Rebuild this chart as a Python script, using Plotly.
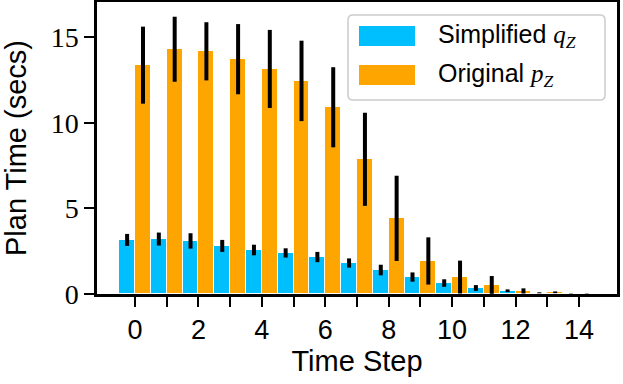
import plotly.graph_objects as go

steps = list(range(15))
simplified_mean = [3.16, 3.21, 3.10, 2.81, 2.57, 2.40, 2.16, 1.81, 1.40, 0.99, 0.64, 0.35, 0.19, 0.07, 0.02]
simplified_std = [0.35, 0.38, 0.45, 0.35, 0.31, 0.27, 0.30, 0.27, 0.31, 0.27, 0.22, 0.17, 0.08, 0.03, 0.01]
original_mean = [13.37, 14.30, 14.18, 13.72, 13.15, 12.45, 10.91, 7.87, 4.42, 1.93, 0.99, 0.53, 0.18, 0.10, 0.02]
original_std = [2.25, 1.90, 1.70, 2.05, 2.28, 2.35, 2.34, 2.72, 2.49, 1.38, 0.96, 0.52, 0.15, 0.05, 0.01]
x_major_ticks = [0, 2, 4, 6, 8, 10, 12, 14]
x_minor_ticks = [1, 3, 5, 7, 9, 11, 13]
y_tickvals = [0, 5, 10, 15]
series_names = ["Simplified", "Original"]
series_math = ["<i>q</i><sub><i>Z</i></sub>", "<i>p</i><sub><i>Z</i></sub>"]

BLUE = "#00BFFF"
ORANGE = "#FFA500"
W, H = 623, 384
ML, MR, MT, MB = 97, 6, 2, 90
PW, PH = W - ML - MR, H - MT - MB

fig = go.Figure()
fig.add_trace(go.Bar(
    x=steps, y=simplified_mean, name="Simplified q_Z",
    marker=dict(color=BLUE, line=dict(color="white", width=1)),
    error_y=dict(type="data", array=simplified_std, color="black", thickness=4, width=0),
    showlegend=False,
))
fig.add_trace(go.Bar(
    x=steps, y=original_mean, name="Original p_Z",
    marker=dict(color=ORANGE, line=dict(color="white", width=1)),
    error_y=dict(type="data", array=original_std, color="black", thickness=4, width=0),
    showlegend=False,
))

def px2x(px):
    return (px - ML) / PW

def px2y(py):
    return (H - MB - py) / PH

# custom legend (matplotlib style)
x0, x1, y0, y1 = px2x(348), px2x(605), px2y(100), px2y(15)
rx, ry = 5 / PW, 5 / PH
path = (f"M{x0+rx},{y0} L{x1-rx},{y0} Q{x1},{y0} {x1},{y0+ry} L{x1},{y1-ry} "
        f"Q{x1},{y1} {x1-rx},{y1} L{x0+rx},{y1} Q{x0},{y1} {x0},{y1-ry} "
        f"L{x0},{y0+ry} Q{x0},{y0} {x0+rx},{y0} Z")
shapes = [dict(type="path", xref="paper", yref="paper", path=path,
               fillcolor="rgba(255,255,255,0.8)", line=dict(color="#cccccc", width=1.5))]
annotations = []
for i, (nm, mth, col) in enumerate(zip(series_names, series_math, [BLUE, ORANGE])):
    top = 26 + i * 39
    shapes.append(dict(type="rect", xref="paper", yref="paper",
                       x0=px2x(359), x1=px2x(415), y0=px2y(top + 20), y1=px2y(top),
                       fillcolor=col, line=dict(width=0)))
    annotations.append(dict(
        xref="paper", yref="paper", x=px2x(436), y=px2y(top + 10),
        xanchor="left", yanchor="middle", showarrow=False,
        text=f"{nm} <span style='font-family:Liberation Serif'>{mth}</span>",
        font=dict(family="Liberation Sans", size=25, color="black"),
    ))

fig.update_layout(
    width=W, height=H,
    margin=dict(l=ML, r=MR, t=MT, b=MB),
    paper_bgcolor="white", plot_bgcolor="white",
    barmode="group", bargap=0, bargroupgap=0,
    shapes=shapes, annotations=annotations,
    showlegend=False,
)
fig.update_xaxes(
    range=[-1.2, 15.2], tickvals=x_major_ticks,
    ticks="outside", ticklen=10, tickwidth=2, tickcolor="black",
    minor=dict(tickvals=x_minor_ticks, ticks="outside", ticklen=10, tickwidth=2,
               tickcolor="black", showgrid=False),
    showline=True, linecolor="black", linewidth=2.5, mirror=True,
    showgrid=False, zeroline=False,
    tickfont=dict(family="Liberation Sans", size=27, color="black"),
    title=dict(text="Time Step", font=dict(family="Liberation Sans", size=29, color="black"), standoff=6),
    automargin=False,
)
fig.update_yaxes(
    range=[0, 17.06], tickvals=y_tickvals,
    ticks="outside", ticklen=10, tickwidth=2, tickcolor="black",
    showline=True, linecolor="black", linewidth=2.5, mirror=True,
    showgrid=False, zeroline=False,
    tickfont=dict(family="Liberation Serif", size=28, color="black"),
    title=dict(text="Plan Time (secs)", font=dict(family="Liberation Sans", size=29, color="black"), standoff=23),
    automargin=False,
)
fig.write_html("out.html", config={"displayModeBar": False},
               post_script="document.body.style.margin='0';")
